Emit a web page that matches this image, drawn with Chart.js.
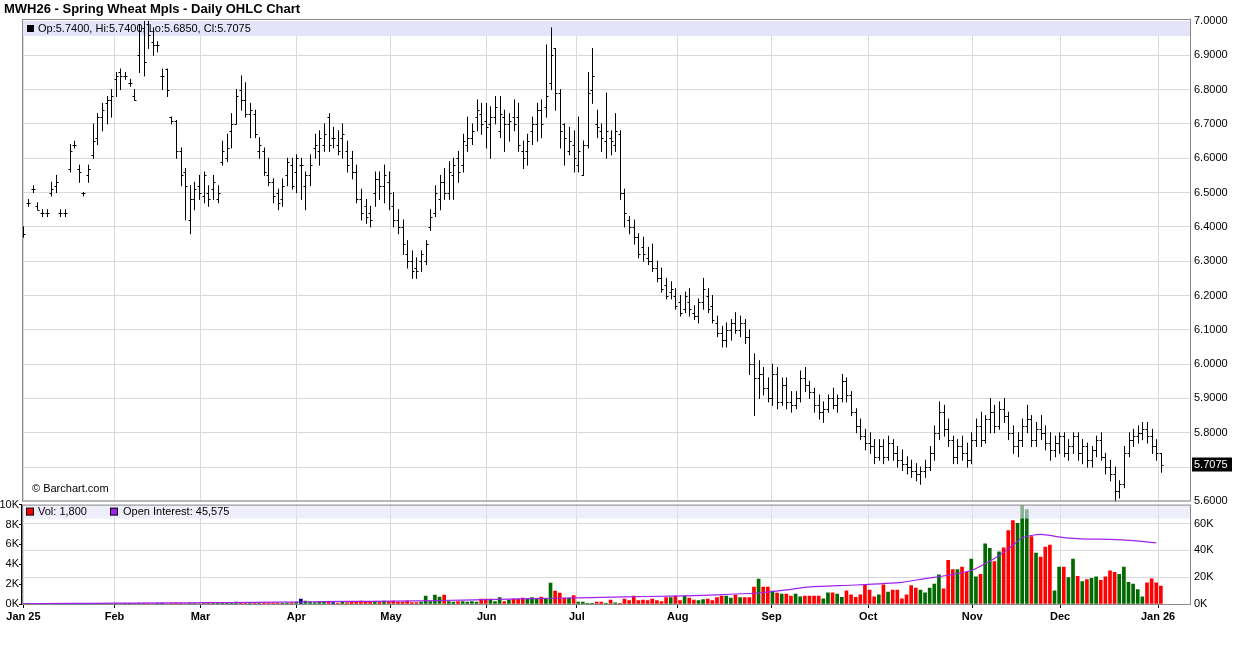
<!DOCTYPE html>
<html>
<head>
<meta charset="utf-8">
<script src="https://cdn.jsdelivr.net/npm/chart.js@4"></script>
<style>
    body { margin: 0; background: #fff; font-family: "Liberation Sans", Arial, sans-serif; }
    #wrap { position: relative; width: 1236px; height: 645px; overflow: hidden; }
    #title { position: absolute; left: 4px; top: 1px; font-size: 13px; font-weight: bold; color: #000; }
    #priceBox { position: absolute; left: 0; top: 0; width: 1236px; height: 512px; }
    #volBox { position: absolute; left: 0; top: 494px; width: 1236px; height: 151px; }
</style>
</head>
<body>
<div id="wrap">
    <div id="priceBox"><canvas id="priceChart"></canvas></div>
    <div id="volBox"><canvas id="volChart"></canvas></div>
    <div id="title">MWH26 - Spring Wheat Mpls - Daily OHLC Chart</div>
</div>
<script>
// OHLC bars per month [open, high, low, close]
const ohlcJan = [[6.39,6.40,6.37,6.38],[6.47,6.48,6.46,6.47],[6.51,6.52,6.50,6.51],[6.46,6.47,6.45,6.45],[6.44,6.45,6.43,6.44],[6.44,6.45,6.43,6.44],[6.50,6.53,6.49,6.51],[6.52,6.55,6.50,6.53],[6.44,6.45,6.43,6.44],[6.44,6.45,6.43,6.44],[6.57,6.64,6.56,6.62],[6.64,6.65,6.63,6.64],[6.57,6.58,6.53,6.56],[6.50,6.50,6.49,6.50],[6.55,6.58,6.53,6.57],[6.61,6.70,6.60,6.65],[6.66,6.73,6.64,6.72],[6.72,6.76,6.68,6.74],[6.76,6.78,6.70,6.77],[6.77,6.80,6.72,6.78],[6.83,6.85,6.78,6.84]];
const ohlcFeb = [[6.85,6.86,6.80,6.84],[6.84,6.85,6.83,6.84],[6.82,6.83,6.81,6.82],[6.78,6.80,6.77,6.77],[6.90,6.99,6.85,6.97],[6.98,7.00,6.84,6.88],[6.99,7.02,6.92,6.96],[6.94,6.98,6.90,6.93],[6.93,6.94,6.91,6.93],[6.84,6.86,6.80,6.84],[6.86,6.86,6.78,6.80],[6.72,6.72,6.70,6.71],[6.71,6.71,6.60,6.62],[6.62,6.63,6.52,6.55],[6.56,6.57,6.42,6.52],[6.42,6.52,6.38,6.48],[6.48,6.53,6.45,6.51],[6.52,6.55,6.48,6.50],[6.49,6.56,6.47,6.55]];
const ohlcMar = [[6.50,6.52,6.46,6.48],[6.51,6.55,6.48,6.53],[6.48,6.52,6.47,6.50],[6.59,6.65,6.58,6.62],[6.60,6.67,6.59,6.63],[6.68,6.73,6.63,6.70],[6.70,6.80,6.70,6.78],[6.80,6.84,6.74,6.77],[6.77,6.82,6.72,6.73],[6.73,6.76,6.66,6.74],[6.73,6.74,6.66,6.67],[6.62,6.66,6.60,6.64],[6.62,6.63,6.55,6.56],[6.55,6.60,6.52,6.53],[6.53,6.54,6.47,6.49],[6.50,6.51,6.45,6.47],[6.48,6.54,6.46,6.52],[6.55,6.60,6.52,6.59],[6.58,6.60,6.51,6.52],[6.56,6.61,6.50,6.60],[6.58,6.60,6.48,6.58]];
const ohlcApr = [[6.52,6.56,6.45,6.55],[6.55,6.61,6.52,6.58],[6.63,6.67,6.60,6.64],[6.62,6.68,6.58,6.66],[6.64,6.70,6.62,6.67],[6.72,6.73,6.62,6.64],[6.66,6.69,6.63,6.66],[6.64,6.68,6.61,6.62],[6.66,6.70,6.60,6.67],[6.62,6.65,6.56,6.58],[6.60,6.62,6.54,6.56],[6.56,6.58,6.47,6.48],[6.48,6.51,6.42,6.44],[6.46,6.48,6.41,6.43],[6.44,6.46,6.40,6.42],[6.50,6.56,6.46,6.54],[6.54,6.56,6.48,6.52],[6.52,6.58,6.47,6.55],[6.53,6.56,6.45,6.50],[6.46,6.50,6.40,6.42],[6.42,6.45,6.38,6.40]];
const ohlcMay = [[6.40,6.42,6.32,6.35],[6.32,6.36,6.28,6.30],[6.30,6.33,6.25,6.27],[6.28,6.31,6.25,6.27],[6.30,6.33,6.27,6.32],[6.30,6.36,6.29,6.35],[6.40,6.45,6.39,6.43],[6.44,6.52,6.43,6.50],[6.48,6.55,6.45,6.53],[6.53,6.57,6.48,6.50],[6.50,6.59,6.48,6.56],[6.55,6.60,6.48,6.58],[6.60,6.62,6.53,6.56],[6.58,6.67,6.56,6.65],[6.64,6.72,6.62,6.66],[6.66,6.70,6.64,6.68],[6.72,6.77,6.68,6.74],[6.73,6.76,6.67,6.70],[6.71,6.76,6.63,6.69],[6.70,6.75,6.60,6.72],[6.72,6.78,6.70,6.75]];
const ohlcJun = [[6.68,6.78,6.66,6.73],[6.72,6.74,6.62,6.70],[6.70,6.73,6.65,6.71],[6.72,6.77,6.68,6.70],[6.72,6.76,6.62,6.64],[6.62,6.65,6.57,6.60],[6.62,6.67,6.58,6.65],[6.68,6.72,6.64,6.70],[6.70,6.76,6.65,6.74],[6.74,6.77,6.66,6.70],[6.75,6.93,6.72,6.78],[6.82,6.98,6.80,6.90],[6.92,6.92,6.74,6.79],[6.79,6.80,6.63,6.68],[6.70,6.70,6.58,6.66],[6.62,6.69,6.61,6.65],[6.64,6.68,6.56,6.60],[6.58,6.72,6.56,6.62],[6.55,6.65,6.55,6.64],[6.64,6.85,6.63,6.79]];
const ohlcJul = [[6.80,6.92,6.76,6.84],[6.70,6.74,6.66,6.69],[6.68,6.70,6.62,6.66],[6.65,6.79,6.60,6.68],[6.66,6.68,6.61,6.65],[6.64,6.73,6.62,6.68],[6.67,6.68,6.48,6.50],[6.50,6.51,6.40,6.44],[6.42,6.43,6.38,6.40],[6.40,6.42,6.35,6.37],[6.37,6.38,6.31,6.32],[6.34,6.37,6.30,6.32],[6.31,6.34,6.29,6.30],[6.30,6.35,6.27,6.28],[6.28,6.30,6.24,6.25],[6.25,6.28,6.21,6.22],[6.23,6.25,6.19,6.20],[6.21,6.24,6.19,6.22],[6.20,6.22,6.16,6.17],[6.18,6.20,6.14,6.15],[6.16,6.21,6.15,6.20]];
const ohlcAug = [[6.18,6.22,6.14,6.16],[6.15,6.17,6.13,6.14],[6.14,6.19,6.12,6.18],[6.18,6.25,6.16,6.22],[6.20,6.22,6.15,6.16],[6.17,6.20,6.12,6.13],[6.12,6.14,6.08,6.09],[6.09,6.11,6.05,6.07],[6.07,6.12,6.05,6.10],[6.10,6.13,6.07,6.12],[6.12,6.15,6.09,6.10],[6.10,6.14,6.08,6.12],[6.12,6.13,6.06,6.08],[6.08,6.10,5.97,6.00],[6.00,6.03,5.85,5.96],[5.96,6.01,5.90,5.97],[5.97,5.99,5.91,5.93],[5.93,5.96,5.89,5.90],[5.90,6.00,5.88,5.97],[5.97,5.99,5.87,5.89],[5.89,5.96,5.88,5.94]];
const ohlcSep = [[5.94,5.96,5.87,5.89],[5.89,5.92,5.86,5.88],[5.88,5.92,5.87,5.90],[5.90,5.98,5.89,5.96],[5.96,5.99,5.92,5.94],[5.94,5.95,5.90,5.92],[5.92,5.93,5.86,5.88],[5.88,5.91,5.84,5.86],[5.86,5.89,5.83,5.87],[5.87,5.91,5.86,5.90],[5.90,5.93,5.87,5.88],[5.88,5.91,5.86,5.90],[5.90,5.97,5.89,5.95],[5.95,5.96,5.89,5.91],[5.91,5.92,5.85,5.86],[5.86,5.87,5.80,5.82],[5.82,5.84,5.78,5.79],[5.79,5.81,5.75,5.77],[5.77,5.80,5.74,5.76],[5.76,5.78,5.71,5.73],[5.73,5.78,5.72,5.76]];
const ohlcOct = [[5.76,5.78,5.71,5.73],[5.73,5.79,5.72,5.77],[5.77,5.78,5.72,5.74],[5.74,5.76,5.70,5.72],[5.72,5.75,5.69,5.71],[5.71,5.73,5.68,5.70],[5.70,5.72,5.67,5.69],[5.69,5.71,5.66,5.68],[5.68,5.70,5.65,5.69],[5.69,5.72,5.67,5.70],[5.70,5.76,5.69,5.74],[5.74,5.82,5.72,5.80],[5.80,5.89,5.78,5.86],[5.86,5.88,5.79,5.81],[5.81,5.84,5.76,5.78],[5.78,5.79,5.71,5.73],[5.73,5.78,5.71,5.76],[5.76,5.79,5.72,5.74],[5.74,5.77,5.70,5.72],[5.72,5.80,5.71,5.78],[5.78,5.84,5.76,5.82],[5.82,5.86,5.76,5.78],[5.78,5.85,5.77,5.84]];
const ohlcNov = [[5.84,5.90,5.80,5.86],[5.86,5.88,5.80,5.82],[5.82,5.89,5.81,5.87],[5.87,5.90,5.83,5.85],[5.85,5.86,5.78,5.80],[5.80,5.82,5.74,5.76],[5.76,5.80,5.73,5.78],[5.78,5.84,5.76,5.82],[5.82,5.88,5.80,5.84],[5.84,5.85,5.76,5.78],[5.78,5.83,5.76,5.81],[5.81,5.85,5.78,5.80],[5.80,5.82,5.75,5.77],[5.77,5.80,5.72,5.75],[5.75,5.79,5.73,5.77],[5.77,5.80,5.74,5.79],[5.79,5.80,5.73,5.74],[5.74,5.78,5.72,5.76],[5.76,5.80,5.74,5.79]];
const ohlcDec = [[5.79,5.80,5.72,5.74],[5.74,5.78,5.71,5.76],[5.76,5.77,5.70,5.72],[5.72,5.76,5.70,5.75],[5.75,5.79,5.73,5.78],[5.78,5.80,5.72,5.73],[5.73,5.74,5.68,5.70],[5.70,5.72,5.66,5.68],[5.68,5.70,5.60,5.63],[5.63,5.66,5.61,5.65],[5.65,5.76,5.64,5.74],[5.74,5.80,5.73,5.78],[5.78,5.81,5.76,5.79],[5.79,5.82,5.77,5.80],[5.80,5.83,5.78,5.81],[5.81,5.83,5.77,5.79],[5.79,5.81,5.74,5.76],[5.76,5.78,5.72,5.74]];
const ohlcJan26 = [[5.74,5.74,5.685,5.7075]];

// volume in thousands (left axis), early part then Sep–Jan
const volEarly = [0.03,0.02,0.05,0.03,0.02,0.04,0.06,0.03,0.02,0.03,0.05,0.04,0.03,0.02,0.04,0.05,0.06,0.04,0.03,0.05,0.04,
    0.05,0.04,0.06,0.03,0.08,0.1,0.07,0.05,0.04,0.06,0.05,0.04,0.08,0.06,0.05,0.1,0.07,0.05,0.06,
    0.08,0.06,0.1,0.12,0.15,0.1,0.2,0.15,0.1,0.12,0.08,0.1,0.15,0.12,0.1,0.08,0.1,0.12,0.15,0.2,0.5,
    0.3,0.2,0.15,0.2,0.25,0.2,0.15,0.1,0.2,0.15,0.2,0.25,0.3,0.2,0.2,0.25,0.2,0.3,0.25,0.3,0.2,
    0.2,0.3,0.15,0.15,0.2,0.8,0.25,0.9,0.7,0.9,0.25,0.2,0.25,0.25,0.2,0.25,0.2,0.5,0.5,0.5,0.25,
    0.65,0.25,0.4,0.5,0.5,0.6,0.5,0.65,0.5,0.7,0.5,2.1,1.3,1.1,0.6,0.6,0.85,0.2,0.2,0.07,
    0.07,0.2,0.2,0.07,0.4,0.13,0.07,0.5,0.35,0.8,0.35,0.4,0.35,0.5,0.35,0.25,0.65,0.65,0.8,0.35,0.8,
    0.6,0.4,0.35,0.45,0.5,0.35,0.65,0.8,0.8,0.6,0.9,0.65,0.65,0.65,1.7,2.5,1.7,1.7,1.3,1.1,1.0,
    1.0,0.8];
const volLate = [1.0,0.73,0.8,0.8,0.8,0.8,0.53,1.13,1.13,1.0,0.67,1.33,0.93,0.67,0.93,1.93,1.4,0.73,0.93,1.93,
    1.2,1.4,1.4,0.53,0.93,1.86,1.6,1.4,1.13,1.6,2.0,2.93,1.53,4.39,3.46,3.46,3.72,3.19,4.52,2.73,
    2.99,6.05,5.59,4.26,5.25,5.65,7.38,8.38,8.11,9.9,9.5,6.78,5.12,4.72,5.72,5.92,1.33,3.72,3.72,2.66,
    4.52,2.79,2.26,2.46,2.59,2.73,2.39,2.73,3.33,3.19,2.99,3.72,2.19,2.0,1.46,0.73,2.13,2.53,2.13,1.8];

// open interest (thousands, right axis) read at bar indices
const oiIdx = [0,10,20,30,40,50,60,70,80,90,100,110,120,130,140,150,160,165,170,180,190,195,200,205,210,213,216,220,225,230,235,240,245];
const oiVal = [0.2,0.4,0.6,0.8,1.0,1.2,1.5,1.9,2.1,2.6,3.2,4.0,4.6,5.3,5.9,6.8,8.6,10.5,12.8,14.2,16.2,19,21.5,25,34,41,49.5,52,49.6,48.5,48.3,47.3,45.6];

// month ticks (bar index) and labels
const monthTicks = [0,19.7,38.3,59,79.5,100.2,119.7,141.5,161.8,182.7,205.2,224.2,245.4];
const monthLabels = ["Jan 25","Feb","Mar","Apr","May","Jun","Jul","Aug","Sep","Oct","Nov","Dec","Jan 26"];

const bars = [].concat(ohlcJan, ohlcFeb, ohlcMar, ohlcApr, ohlcMay, ohlcJun, ohlcJul, ohlcAug, ohlcSep, ohlcOct, ohlcNov, ohlcDec, ohlcJan26);
const volumes = volEarly.concat(volLate);
const X_MIN = -0.3, X_MAX = 252.3;
const FONT = "'Liberation Sans', Arial, sans-serif";

Chart.defaults.font.family = FONT;
Chart.defaults.font.size = 11;
Chart.defaults.color = "#000";
Chart.defaults.animation = false;

function xAxis(showLabels) {
    return {
        type: "linear", min: X_MIN, max: X_MAX, offset: false,
        afterBuildTicks: function (scale) {
            scale.ticks = monthTicks.map(function (v) { return { value: v }; });
        },
        afterFit: function (scale) { scale.height = showLabels ? 41 : 0; },
        ticks: {
            display: showLabels, autoSkip: false, maxRotation: 0, padding: 2,
            font: { weight: "bold", size: 11 },
            callback: function (v, i) { return monthLabels[i]; }
        },
        grid: { color: "#d9d9d9", offset: false, drawTicks: showLabels, tickLength: 4, tickColor: "#000" },
        border: { display: showLabels, color: "#000" }
    };
}

const ohlcPlugin = {
    id: "ohlc",
    beforeDatasetsDraw: function (chart) {
        const a = chart.chartArea, ctx = chart.ctx;
        ctx.save();
        ctx.fillStyle = "#e4e4fa";
        ctx.fillRect(a.left, a.top, a.right - a.left, 15);
        ctx.restore();
    },
    afterDatasetsDraw: function (chart) {
        const x = chart.scales.x, y = chart.scales.y, a = chart.chartArea, ctx = chart.ctx;
        ctx.save();
        ctx.beginPath();
        ctx.rect(a.left, a.top, a.right - a.left, a.bottom - a.top);
        ctx.clip();
        ctx.strokeStyle = "#000";
        ctx.lineWidth = 1;
        bars.forEach(function (b, i) {
            const px = Math.round(x.getPixelForValue(i)) + 0.5;
            ctx.beginPath();
            ctx.moveTo(px, y.getPixelForValue(b[1]) - 0.5);
            ctx.lineTo(px, y.getPixelForValue(b[2]) + 0.5);
            const po = Math.round(y.getPixelForValue(b[0])) + 0.5;
            const pc = Math.round(y.getPixelForValue(b[3])) + 0.5;
            ctx.moveTo(px - 2, po); ctx.lineTo(px, po);
            ctx.moveTo(px, pc); ctx.lineTo(px + 2, pc);
            ctx.stroke();
        });
        ctx.restore();
    },
    afterDraw: function (chart) {
        const a = chart.chartArea, ctx = chart.ctx, y = chart.scales.y;
        const last = bars[bars.length - 1];
        ctx.save();
        ctx.strokeStyle = "#888";
        ctx.strokeRect(a.left + 0.5, a.top - 1.5, a.right - a.left, a.bottom - a.top + 1);
        ctx.fillStyle = "#000";
        ctx.fillRect(a.left + 5, a.top + 4, 7, 7);
        ctx.font = "11px " + FONT;
        ctx.textBaseline = "middle";
        ctx.fillText("Op:" + last[0].toFixed(4) + ", Hi:" + last[1].toFixed(4) + ", Lo:" + last[2].toFixed(4) + ", Cl:" + last[3].toFixed(4), a.left + 16, a.top + 8);
        ctx.fillText("\u00a9 Barchart.com", a.left + 10, a.bottom - 12);
        const py = y.getPixelForValue(last[3]);
        ctx.fillRect(a.right + 2, py - 7, 40, 14);
        ctx.fillStyle = "#fff";
        ctx.fillText(last[3].toFixed(4), a.right + 4, py);
        ctx.restore();
    }
};

new Chart(document.getElementById("priceChart"), {
    type: "line",
    data: { datasets: [{ data: bars.map(function (b, i) { return { x: i, y: b[3] }; }), showLine: false, pointRadius: 0 }] },
    options: {
        responsive: true, maintainAspectRatio: false,
        layout: { padding: { top: 21, left: 22, bottom: 5, right: 0 } },
        plugins: { legend: { display: false }, tooltip: { enabled: false } },
        scales: {
            x: xAxis(false),
            y: {
                position: "right", min: 5.6, max: 7.0,
                afterFit: function (s) { s.width = 46; },
                ticks: { stepSize: 0.1, padding: 4, callback: function (v) { return v.toFixed(4); } },
                grid: { color: "#d9d9d9", drawTicks: false },
                border: { display: false }
            }
        }
    },
    plugins: [ohlcPlugin]
});

const volPlugin = {
    id: "volBand",
    afterDatasetsDraw: function (chart) {
        const a = chart.chartArea, ctx = chart.ctx;
        ctx.save();
        ctx.fillStyle = "rgba(228,228,250,0.6)";
        ctx.fillRect(a.left, a.top, a.right - a.left, 14);
        ctx.font = "11px " + FONT;
        ctx.textBaseline = "middle";
        ctx.fillStyle = "#000";
        ctx.fillRect(a.left + 4, a.top + 3, 8, 8);
        ctx.fillStyle = "#ff0000";
        ctx.fillRect(a.left + 5, a.top + 4, 6, 6);
        ctx.fillStyle = "#000";
        const lastVol = Math.round(volumes[volumes.length - 1] * 1000).toLocaleString("en-US");
        ctx.fillText("Vol: " + lastVol, a.left + 16, a.top + 7);
        ctx.fillRect(a.left + 88, a.top + 3, 8, 8);
        ctx.fillStyle = "#a020f0";
        ctx.fillRect(a.left + 89, a.top + 4, 6, 6);
        ctx.fillStyle = "#000";
        ctx.fillText("Open Interest: 45,575", a.left + 101, a.top + 7);
        ctx.strokeStyle = "#888";
        ctx.strokeRect(a.left + 0.5, a.top + 0.5, a.right - a.left, a.bottom - a.top);
        ctx.beginPath();
        ctx.strokeStyle = "#000";
        ctx.moveTo(a.left - 0.5, a.top);
        ctx.lineTo(a.left - 0.5, a.bottom);
        ctx.stroke();
        ctx.restore();
    }
};

new Chart(document.getElementById("volChart"), {
    data: {
        datasets: [
            {
                type: "line", yAxisID: "y2", order: 0,
                data: oiIdx.map(function (v, i) { return { x: v, y: oiVal[i] }; }),
                borderColor: "#a020f0", borderWidth: 1.2, pointRadius: 0, tension: 0.2
            },
            {
                type: "bar", yAxisID: "y", order: 1,
                data: volumes.map(function (v, i) { return { x: i, y: v }; }),
                barThickness: 3,
                backgroundColor: bars.map(function (b) {
                    return b[3] > b[0] ? "#006a00" : (b[3] < b[0] ? "#ff0000" : "#000080");
                })
            }
        ]
    },
    options: {
        responsive: true, maintainAspectRatio: false,
        layout: { padding: 0 },
        plugins: { legend: { display: false }, tooltip: { enabled: false } },
        scales: {
            x: xAxis(true),
            y: {
                position: "left", min: 0, max: 10,
                afterFit: function (s) { s.width = 22; },
                ticks: { stepSize: 2, padding: 0, callback: function (v) { return v + "K"; } },
                grid: { drawOnChartArea: false, drawTicks: true, tickLength: 3, tickColor: "#000" },
                border: { display: false }
            },
            y2: {
                position: "right", min: 0, max: 74.25,
                afterBuildTicks: function (s) { s.ticks = [0, 20, 40, 60].map(function (v) { return { value: v }; }); },
                afterFit: function (s) { s.width = 46; },
                ticks: { padding: 4, callback: function (v) { return v + "K"; } },
                grid: { color: "#d9d9d9", drawTicks: false },
                border: { display: false }
            }
        }
    },
    plugins: [volPlugin]
});
</script>
</body>
</html>
